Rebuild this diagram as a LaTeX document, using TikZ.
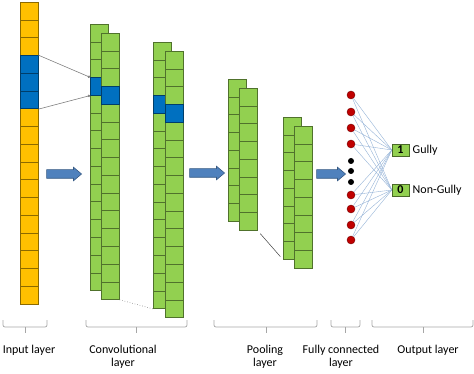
\documentclass[tikz,border=0pt]{standalone}
\usepackage{fontspec}
\setmainfont{Carlito}
\usepackage{xcolor}
\usepackage{tikz}
\usetikzlibrary{shapes, arrows.meta, positioning, calc}

\definecolor{inyellow}{HTML}{FFC000}
\definecolor{kblue}{HTML}{0070C0}
\definecolor{kgreen}{HTML}{92D050}
\definecolor{arrblue}{HTML}{4F81BD}
\definecolor{fcred}{HTML}{C00000}
\definecolor{linkblue}{HTML}{95B3D7}

\begin{document}
\begin{tikzpicture}[x=1pt,y=-1pt,
  cell/.style={draw=#1!55!black, fill=#1, minimum width=18pt, minimum height=17.75pt, inner sep=0pt, anchor=north west, line width=0.6pt},
  flow/.style={single arrow, draw=arrblue!70!black, fill=arrblue, line width=0.6pt, minimum width=13pt, minimum height=35pt, single arrow head extend=2.5pt, single arrow tip angle=80, inner xsep=0pt, inner ysep=4pt},
  neuron/.style={circle, draw=fcred!60!black, fill=fcred, minimum size=8pt, inner sep=0pt},
  gapdot/.style={circle, fill=black, minimum size=6pt, inner sep=0pt},
  outbox/.style={draw=kgreen!50!black, fill=kgreen, minimum width=17pt, minimum height=12pt, inner sep=0pt, font=\fontsize{12}{13}\selectfont\bfseries},
  fclink/.style={draw=linkblue, line width=0.4pt},
  brace/.style={draw=gray!70, line width=0.7pt, rounded corners=2pt},
  lbl/.style={font=\fontsize{12}{13}\selectfont, align=center}
]
  \useasboundingbox (0,0) rectangle (474,374);

  % Input layer
  \foreach \i in {0,...,16}
    \node[cell=inyellow] (in\i) at (20,{2+\i*17.75}) {};
  \foreach \i in {3,4,5}
    \node[cell=kblue] (in\i) at (20,{2+\i*17.75}) {};

  % Convolutional layer, first pair
  \foreach \i in {0,...,14}
    \node[cell=kgreen] (c1a\i) at (90,{24+\i*17.75}) {};
  \node[cell=kblue] (c1a3) at (90,{24+3*17.75}) {};
  \foreach \i in {0,...,14}
    \node[cell=kgreen] (c1b\i) at (101,{33+\i*17.75}) {};
  \node[cell=kblue] (c1b3) at (101,{33+3*17.75}) {};

  % Convolutional layer, second pair
  \foreach \i in {0,...,14}
    \node[cell=kgreen] (c2a\i) at (153,{42+\i*17.75}) {};
  \node[cell=kblue] (c2a3) at (153,{42+3*17.75}) {};
  \foreach \i in {0,...,14}
    \node[cell=kgreen] (c2b\i) at (165,{51+\i*17.75}) {};
  \node[cell=kblue] (c2b3) at (165,{51+3*17.75}) {};

  % Pooling layer
  \foreach \i in {0,...,7} {
    \node[cell=kgreen] (p1a\i) at (228,{79+\i*17.75}) {};
  }
  \foreach \i in {0,...,7} {
    \node[cell=kgreen] (p1b\i) at (239,{88+\i*17.75}) {};
  }
  \foreach \i in {0,...,7} {
    \node[cell=kgreen] (p2a\i) at (283,{117+\i*17.75}) {};
  }
  \foreach \i in {0,...,7} {
    \node[cell=kgreen] (p2b\i) at (294,{126+\i*17.75}) {};
  }

  % Receptive field lines
  \draw[gray, line width=0.6pt, -{Circle[length=2.5pt]}] (in3.north east) -- (c1a3.north west);
  \draw[gray, line width=0.6pt, -{Circle[length=2.5pt]}] (in5.south east) -- (c1a3.south west);

  % Links between stacks
  \draw[gray, dotted, line width=0.6pt] (c1b14.south east) -- (c2a14.south west);
  \draw[darkgray, line width=0.5pt, shorten <=4pt, shorten >=4pt] (p1b7.south east) -- (p2a7.south west);

  % Block arrows
  \node[flow] (a1) at (61.5,174) {};
  \node[flow] (a2) at (204.5,173) {};
  \node[flow, minimum height=29pt] (a3) at (328.5,174) {};

  % Fully connected layer
  \foreach \n/\y in {1/95,2/112,3/128,4/144,5/195,6/209,7/225,8/240}
    \node[neuron] (fc\n) at (351,\y) {};
  \foreach \n/\y in {1/161,2/171,3/182}
    \node[gapdot] (gd\n) at (351,\y) {};

  % Output layer
  \node[outbox] (out1) at (400.5,150) {1};
  \node[outbox] (out0) at (400.5,190) {0};
  \node[lbl, right=0pt of out1] (gully) {Gully};
  \node[lbl, right=0pt of out0] (nongully) {Non-Gully};

  \foreach \n in {1,...,8} {
    \draw[fclink] (fc\n) -- (out1.west);
    \draw[fclink] (fc\n) -- (out0.west);
  }

  % Braces under the layers
  \foreach \a/\b/\m in {3/47/25, 86/187/136, 214/317/266, 331/360/345, 372/473/423} {
    \draw[brace] (\a,320) -- (\a,327) -- (\b,327) -- (\b,320);
    \draw[brace] (\m,327) -- (\m,333);
  }

  % Layer names
  \node[lbl] (l-in) at (29,350) {Input layer};
  \node[lbl] (l-conv) at (123,356.5) {Convolutional\\layer};
  \node[lbl] (l-pool) at (265,356.5) {Pooling\\layer};
  \node[lbl] (l-fc) at (341,357) {Fully connected\\layer};
  \node[lbl] (l-out) at (428,350) {Output layer};
\end{tikzpicture}
\end{document}
